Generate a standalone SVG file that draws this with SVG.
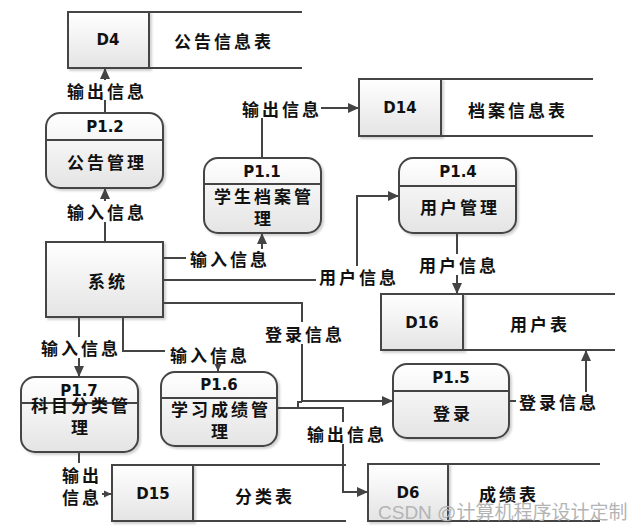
<svg xmlns="http://www.w3.org/2000/svg" width="644" height="531" viewBox="0 0 644 531">
<defs>
  <linearGradient id="g" x1="0" y1="0" x2="0" y2="1">
    <stop offset="0" stop-color="#ffffff"/>
    <stop offset="1" stop-color="#e4e4e4"/>
  </linearGradient>
  <filter id="sh" x="-10%" y="-10%" width="130%" height="130%">
    <feDropShadow dx="2" dy="2" stdDeviation="1.2" flood-color="#000" flood-opacity="0.18"/>
  </filter>
  <marker id="ar" markerWidth="12" markerHeight="12" refX="10" refY="6" orient="auto" markerUnits="userSpaceOnUse">
    <path d="M0,1 L11,6 L0,11 Z" fill="#444"/>
  </marker>
  <marker id="ars" markerWidth="8" markerHeight="8" refX="7" refY="4" orient="auto" markerUnits="userSpaceOnUse">
    <path d="M0,0.5 L7.5,4 L0,7.5 Z" fill="#444"/>
  </marker>
</defs>
<style>
  .box { fill: url(#g); stroke: #444; stroke-width: 2; filter: url(#sh); }
  .ln { fill: none; stroke: #444; stroke-width: 2; }
  .st { fill: none; stroke: #444; stroke-width: 2; }
  .cn { fill: none; stroke: #444; stroke-width: 2; }
  .id { font-family: "DejaVu Sans", sans-serif; font-weight: bold; font-size: 15px; fill: #111; text-anchor: middle; dominant-baseline: central; }
  .zh { font-family: "Noto Sans CJK SC", sans-serif; font-weight: bold; font-size: 17px; fill: #111; text-anchor: middle; dominant-baseline: central; letter-spacing: 3px; }
  .wm { font-family: "Liberation Sans", "Noto Sans CJK SC", sans-serif; font-size: 19px; fill: #b4b4b4; dominant-baseline: central; }
</style>

<g id="D4">
  <rect class="box" x="68" y="12" width="81" height="56"/>
  <path class="st" d="M149,12 H302 M149,68 H302"/>
  <text class="id" x="108" y="40">D4</text>
  <text class="zh" x="224" y="40">公告信息表</text>
</g>

<g id="D14">
  <rect class="box" x="359" y="79" width="82" height="57"/>
  <path class="st" d="M441,79 H593 M441,136 H593"/>
  <text class="id" x="400" y="108">D14</text>
  <text class="zh" x="518" y="109">档案信息表</text>
</g>

<g id="D16">
  <rect class="box" x="381" y="294" width="82" height="56"/>
  <path class="st" d="M463,294 H615 M463,350 H615"/>
  <text class="id" x="422" y="323">D16</text>
  <text class="zh" x="540" y="323">用户表</text>
</g>

<g id="D15">
  <rect class="box" x="112" y="465" width="81" height="56"/>
  <path class="st" d="M193,465 H346 M193,521 H346"/>
  <text class="id" x="153" y="494">D15</text>
  <text class="zh" x="265" y="495">分类表</text>
</g>

<g id="D6">
  <rect class="box" x="368" y="464" width="80" height="57"/>
  <path class="st" d="M448,464 H600 M448,521 H600"/>
  <text class="id" x="408" y="493">D6</text>
  <text class="zh" x="509" y="493">成绩表</text>
</g>

<g id="sys">
  <rect class="box" x="46" y="242" width="117" height="75"/>
  <text class="zh" x="108" y="280">系统</text>
</g>

<g id="P1.2">
  <rect class="box" x="46" y="113" width="117" height="75" rx="14"/>
  <path class="ln" d="M46,140 H163"/>
  <text class="id" x="105" y="127">P1.2</text>
  <text class="zh" x="107" y="161">公告管理</text>
</g>

<g id="P1.1">
  <rect class="box" x="204" y="158" width="117" height="75" rx="14"/>
  <path class="ln" d="M204,184 H321"/>
  <text class="id" x="262" y="172">P1.1</text>
  <text class="zh" x="264" y="195">学生档案管</text>
  <text class="zh" x="264" y="217">理</text>
</g>

<g id="P1.4">
  <rect class="box" x="399" y="158" width="117" height="75" rx="14"/>
  <path class="ln" d="M399,186 H516"/>
  <text class="id" x="458" y="172">P1.4</text>
  <text class="zh" x="460" y="206">用户管理</text>
</g>

<g id="P1.5">
  <rect class="box" x="393" y="364" width="116" height="74" rx="14"/>
  <path class="ln" d="M393,391 H509"/>
  <text class="id" x="451" y="378">P1.5</text>
  <text class="zh" x="453" y="412">登录</text>
</g>

<g id="P1.7">
  <rect class="box" x="21" y="377" width="117" height="75" rx="14"/>
  <path class="ln" d="M21,403 H138"/>
  <text class="id" x="79" y="391">P1.7</text>
  <text class="zh" x="81" y="404">科目分类管</text>
  <text class="zh" x="81" y="426">理</text>
</g>

<g id="P1.6">
  <rect class="box" x="161" y="372" width="116" height="74" rx="14"/>
  <path class="ln" d="M161,398 H277"/>
  <text class="id" x="219" y="385">P1.6</text>
  <text class="zh" x="221" y="408">学习成绩管</text>
  <text class="zh" x="221" y="430">理</text>
</g>

<g id="connectors">
  <!-- 系统 -> P1.2 -->
  <path class="cn" d="M105,242 V222"/>
  <path class="cn" d="M105,201 V189" marker-end="url(#ar)"/>
  <text class="zh" x="107" y="211">输入信息</text>
  <!-- P1.2 -> D4 -->
  <path class="cn" d="M105,113 V100"/>
  <path class="cn" d="M105,80 V69" marker-end="url(#ar)"/>
  <text class="zh" x="107" y="90">输出信息</text>
  <!-- P1.1 -> D14 -->
  <path class="cn" d="M262,158 V118"/>
  <path class="cn" d="M321,108 H358" marker-end="url(#ar)"/>
  <text class="zh" x="282" y="108">输出信息</text>
  <!-- 系统 -> P1.1 -->
  <path class="cn" d="M163,258 H186"/>
  <path class="cn" d="M262,249 V234" marker-end="url(#ar)"/>
  <text class="zh" x="230" y="258">输入信息</text>
  <!-- 系统 -> P1.4 -->
  <path class="cn" d="M163,280 H316"/>
  <path class="cn" d="M357,266 V196 H398" marker-end="url(#ar)"/>
  <text class="zh" x="359" y="276">用户信息</text>
  <!-- P1.4 -> D16 -->
  <path class="cn" d="M457,233 V254"/>
  <path class="cn" d="M457,275 V293" marker-end="url(#ar)"/>
  <text class="zh" x="459" y="264">用户信息</text>
  <!-- 系统 -> P1.5 -->
  <path class="cn" d="M163,303 H302 V322"/>
  <path class="cn" d="M302,344 V401 H392" marker-end="url(#ar)"/>
  <text class="zh" x="305" y="333">登录信息</text>
  <!-- P1.5 -> D16 -->
  <path class="cn" d="M509,401 H516"/>
  <path class="cn" d="M586,392 V351" marker-end="url(#ar)"/>
  <text class="zh" x="559" y="401">登录信息</text>
  <!-- 系统 -> P1.7 -->
  <path class="cn" d="M79,317 V337"/>
  <path class="cn" d="M79,358 V376" marker-end="url(#ar)"/>
  <text class="zh" x="81" y="347">输入信息</text>
  <!-- 系统 -> P1.6 -->
  <path class="cn" d="M123,317 V351 H165"/>
  <path class="cn" d="M218,364 V371" marker-end="url(#ars)"/>
  <text class="zh" x="210" y="354">输入信息</text>
  <!-- P1.6 -> D6 -->
  <path class="cn" d="M277,408 H343 V422"/>
  <path class="cn" d="M298,408 V402 H302"/>
  <path class="cn" d="M343,444 V492 H367" marker-end="url(#ar)"/>
  <text class="zh" x="347" y="433">输出信息</text>
  <!-- P1.7 -> D15 -->
  <path class="cn" d="M79,452 V463"/>
  <path class="cn" d="M102,494 H111" marker-end="url(#ars)"/>
  <text class="zh" x="82" y="474">输出</text>
  <text class="zh" x="82" y="496">信息</text>
</g>

<text class="wm" x="378" y="512">CSDN @计算机程序设计定制</text>
</svg>
